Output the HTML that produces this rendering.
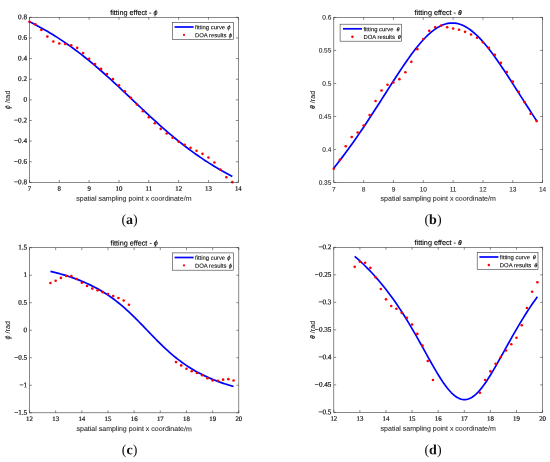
<!DOCTYPE html>
<html><head><meta charset="utf-8"><title>fitting effect</title>
<style>
html,body{margin:0;padding:0;background:#fff}
svg{display:block}
text{font-family:"Liberation Sans",sans-serif;fill:#111}
.ts{font-family:"Liberation Serif",serif;font-size:7.15px;fill:#111;stroke:#111;stroke-width:0.2}
.ts.tx{font-size:6.85px}
.tn{font-size:6.55px;fill:#1a1a1a;stroke:#1a1a1a;stroke-width:0.08}
.ti{font-size:7.25px;fill:#000;stroke:#000;stroke-width:0.1}
.xl{font-size:7px;fill:#2a2a2a;stroke:#2a2a2a;stroke-width:0.08}
.yl{font-size:7.25px;fill:#2a2a2a;stroke:#2a2a2a;stroke-width:0.08}
.le{font-size:5.9px;fill:#000;stroke:#000;stroke-width:0.08}
.sy{font-style:italic}
.th{font-style:italic;font-weight:bold;font-size:94%}
.cp{font-family:"Liberation Serif",serif;font-size:14px;fill:#111}
.bd{font-weight:bold}
.cv{fill:none;stroke:#0000ff;stroke-width:1.7;stroke-linejoin:round}
.dt{fill:#ff0000}
.ax{fill:none;stroke:#3a3a3a;stroke-width:0.6}
.lg{fill:#fff;stroke:#3a3a3a;stroke-width:0.6}
</style></head>
<body><svg width="550" height="462" viewBox="0 0 550 462">
<rect width="550" height="462" fill="#fff"/>
<path class="cv" d="M29.45 21.64 L31.73 22.79 L34.01 23.96 L36.29 25.16 L38.57 26.39 L40.85 27.64 L43.13 28.92 L45.41 30.22 L47.69 31.55 L49.97 32.91 L52.25 34.30 L54.53 35.71 L56.80 37.15 L59.08 38.62 L61.36 40.12 L63.64 41.65 L65.92 43.21 L68.20 44.79 L70.48 46.41 L72.76 48.05 L75.04 49.73 L77.32 51.43 L79.60 53.16 L81.88 54.93 L84.16 56.72 L86.44 58.53 L88.72 60.38 L91.00 62.25 L93.28 64.15 L95.56 66.08 L97.84 68.02 L100.12 70.00 L102.40 71.99 L104.68 74.01 L106.96 76.05 L109.24 78.10 L111.51 80.18 L113.79 82.27 L116.07 84.37 L118.35 86.49 L120.63 88.62 L122.91 90.76 L125.19 92.91 L127.47 95.06 L129.75 97.22 L132.03 99.38 L134.31 101.53 L136.59 103.69 L138.87 105.85 L141.15 108.00 L143.43 110.14 L145.71 112.27 L147.99 114.40 L150.27 116.51 L152.55 118.61 L154.83 120.69 L157.11 122.75 L159.39 124.80 L161.67 126.82 L163.95 128.83 L166.22 130.81 L168.50 132.77 L170.78 134.71 L173.06 136.62 L175.34 138.50 L177.62 140.36 L179.90 142.19 L182.18 143.99 L184.46 145.76 L186.74 147.51 L189.02 149.23 L191.30 150.91 L193.58 152.57 L195.86 154.20 L198.14 155.80 L200.42 157.37 L202.70 158.91 L204.98 160.42 L207.26 161.91 L209.54 163.36 L211.82 164.79 L214.10 166.18 L216.38 167.55 L218.66 168.90 L220.93 170.21 L223.21 171.50 L225.49 172.76 L227.77 174.00 L230.05 175.21 L232.33 176.40"/>
<g class="dt"><circle cx="29.45" cy="21.87" r="1.3"/><circle cx="35.42" cy="24.42" r="1.3"/><circle cx="41.38" cy="29.99" r="1.3"/><circle cx="47.35" cy="36.60" r="1.3"/><circle cx="53.32" cy="41.45" r="1.3"/><circle cx="59.29" cy="43.51" r="1.3"/><circle cx="65.25" cy="44.03" r="1.3"/><circle cx="71.22" cy="45.26" r="1.3"/><circle cx="77.19" cy="47.84" r="1.3"/><circle cx="83.15" cy="53.11" r="1.3"/><circle cx="89.12" cy="58.73" r="1.3"/><circle cx="95.09" cy="64.04" r="1.3"/><circle cx="101.06" cy="68.89" r="1.3"/><circle cx="107.02" cy="73.95" r="1.3"/><circle cx="112.99" cy="79.06" r="1.3"/><circle cx="118.96" cy="85.20" r="1.3"/><circle cx="124.92" cy="91.29" r="1.3"/><circle cx="130.89" cy="97.89" r="1.3"/><circle cx="136.86" cy="104.49" r="1.3"/><circle cx="142.83" cy="111.30" r="1.3"/><circle cx="148.79" cy="117.19" r="1.3"/><circle cx="154.76" cy="123.27" r="1.3"/><circle cx="160.73" cy="128.90" r="1.3"/><circle cx="166.69" cy="133.49" r="1.3"/><circle cx="172.66" cy="137.82" r="1.3"/><circle cx="178.63" cy="141.64" r="1.3"/><circle cx="184.60" cy="144.70" r="1.3"/><circle cx="190.56" cy="147.73" r="1.3"/><circle cx="196.53" cy="150.82" r="1.3"/><circle cx="202.50" cy="153.87" r="1.3"/><circle cx="208.46" cy="157.43" r="1.3"/><circle cx="214.43" cy="162.48" r="1.3"/><circle cx="220.40" cy="169.66" r="1.3"/><circle cx="226.37" cy="177.30" r="1.3"/><circle cx="232.33" cy="182.14" r="1.3"/></g>
<rect class="ax" x="29.45" y="17.3" width="208.85" height="165.10"/>
<path class="ax" d="M29.45 182.4 v-2.4 M29.45 17.3 v2.4 M59.29 182.4 v-2.4 M59.29 17.3 v2.4 M89.12 182.4 v-2.4 M89.12 17.3 v2.4 M118.96 182.4 v-2.4 M118.96 17.3 v2.4 M148.79 182.4 v-2.4 M148.79 17.3 v2.4 M178.63 182.4 v-2.4 M178.63 17.3 v2.4 M208.46 182.4 v-2.4 M208.46 17.3 v2.4 M238.30 182.4 v-2.4 M238.30 17.3 v2.4 M29.45 182.40 h2.4 M238.3 182.40 h-2.4 M29.45 161.76 h2.4 M238.3 161.76 h-2.4 M29.45 141.12 h2.4 M238.3 141.12 h-2.4 M29.45 120.49 h2.4 M238.3 120.49 h-2.4 M29.45 99.85 h2.4 M238.3 99.85 h-2.4 M29.45 79.21 h2.4 M238.3 79.21 h-2.4 M29.45 58.57 h2.4 M238.3 58.57 h-2.4 M29.45 37.94 h2.4 M238.3 37.94 h-2.4 M29.45 17.30 h2.4 M238.3 17.30 h-2.4"/>
<text transform="translate(29.45 190.70) rotate(0.03)" class="ts tx" text-anchor="middle">7</text>
<text transform="translate(59.29 190.70) rotate(0.03)" class="ts tx" text-anchor="middle">8</text>
<text transform="translate(89.12 190.70) rotate(0.03)" class="ts tx" text-anchor="middle">9</text>
<text transform="translate(118.96 190.70) rotate(0.03)" class="ts tx" text-anchor="middle">10</text>
<text transform="translate(148.79 190.70) rotate(0.03)" class="ts tx" text-anchor="middle">11</text>
<text transform="translate(178.63 190.70) rotate(0.03)" class="ts tx" text-anchor="middle">12</text>
<text transform="translate(208.46 190.70) rotate(0.03)" class="ts tx" text-anchor="middle">13</text>
<text transform="translate(238.30 190.70) rotate(0.03)" class="ts tx" text-anchor="middle">14</text>
<text transform="translate(27.05 184.30) rotate(0.03)" class="ts" text-anchor="end">−0.8</text>
<text transform="translate(27.05 163.66) rotate(0.03)" class="ts" text-anchor="end">−0.6</text>
<text transform="translate(27.05 143.03) rotate(0.03)" class="ts" text-anchor="end">−0.4</text>
<text transform="translate(27.05 122.39) rotate(0.03)" class="ts" text-anchor="end">−0.2</text>
<text transform="translate(27.05 101.75) rotate(0.03)" class="ts" text-anchor="end">0</text>
<text transform="translate(27.05 81.11) rotate(0.03)" class="ts" text-anchor="end">0.2</text>
<text transform="translate(27.05 60.47) rotate(0.03)" class="ts" text-anchor="end">0.4</text>
<text transform="translate(27.05 39.84) rotate(0.03)" class="ts" text-anchor="end">0.6</text>
<text transform="translate(27.05 19.20) rotate(0.03)" class="ts" text-anchor="end">0.8</text>
<text transform="translate(133.88 15.00) rotate(0.03)" class="ti" text-anchor="middle">fitting effect - <tspan class="sy">ϕ</tspan></text>
<text transform="translate(133.88 200.70) rotate(0.03)" class="xl" text-anchor="middle">spatial sampling point x coordinate/m</text>
<text transform="translate(10.00 99.85) rotate(-90)" class="yl" text-anchor="middle"><tspan class="sy">ϕ</tspan> /rad</text>
<rect class="lg" x="172.4" y="22.4" width="61.10" height="17.00"/>
<path class="cv" d="M174.60 27.00 h19"/>
<circle class="dt" cx="184.00" cy="34.90" r="1.05"/>
<text transform="translate(195.00 29.35) rotate(0.03)" class="le">fitting curve <tspan dx="0.4"><tspan class="sy">ϕ</tspan></tspan></text>
<text transform="translate(195.00 37.15) rotate(0.03)" class="le">DOA results <tspan dx="0.8"><tspan class="sy">ϕ</tspan></tspan></text>
<path class="cv" d="M333.80 168.15 L336.08 165.27 L338.36 162.35 L340.64 159.39 L342.92 156.38 L345.20 153.33 L347.47 150.23 L349.75 147.09 L352.03 143.91 L354.31 140.68 L356.59 137.42 L358.87 134.12 L361.15 130.77 L363.43 127.40 L365.71 123.99 L367.99 120.54 L370.26 117.07 L372.54 113.57 L374.82 110.05 L377.10 106.51 L379.38 102.95 L381.66 99.38 L383.94 95.80 L386.22 92.22 L388.50 88.65 L390.78 85.08 L393.05 81.53 L395.33 78.00 L397.61 74.50 L399.89 71.04 L402.17 67.63 L404.45 64.27 L406.73 60.97 L409.01 57.74 L411.29 54.60 L413.57 51.54 L415.85 48.59 L418.12 45.75 L420.40 43.04 L422.68 40.45 L424.96 38.01 L427.24 35.72 L429.52 33.59 L431.80 31.64 L434.08 29.86 L436.36 28.28 L438.64 26.89 L440.91 25.70 L443.19 24.72 L445.47 23.96 L447.75 23.41 L450.03 23.09 L452.31 22.99 L454.59 23.11 L456.87 23.45 L459.15 24.01 L461.43 24.79 L463.71 25.79 L465.98 26.99 L468.26 28.39 L470.54 30.00 L472.82 31.79 L475.10 33.75 L477.38 35.89 L479.66 38.20 L481.94 40.65 L484.22 43.25 L486.50 45.97 L488.77 48.82 L491.05 51.78 L493.33 54.84 L495.61 57.99 L497.89 61.23 L500.17 64.53 L502.45 67.90 L504.73 71.32 L507.01 74.78 L509.29 78.28 L511.56 81.81 L513.84 85.36 L516.12 88.93 L518.40 92.51 L520.68 96.09 L522.96 99.66 L525.24 103.23 L527.52 106.79 L529.80 110.33 L532.08 113.85 L534.36 117.35 L536.63 120.82"/>
<g class="dt"><circle cx="333.80" cy="168.76" r="1.3"/><circle cx="339.77" cy="159.91" r="1.3"/><circle cx="345.73" cy="146.18" r="1.3"/><circle cx="351.70" cy="137.06" r="1.3"/><circle cx="357.66" cy="132.44" r="1.3"/><circle cx="363.63" cy="125.57" r="1.3"/><circle cx="369.59" cy="114.94" r="1.3"/><circle cx="375.56" cy="100.94" r="1.3"/><circle cx="381.53" cy="90.57" r="1.3"/><circle cx="387.49" cy="84.69" r="1.3"/><circle cx="393.46" cy="82.45" r="1.3"/><circle cx="399.42" cy="79.15" r="1.3"/><circle cx="405.39" cy="72.28" r="1.3"/><circle cx="411.35" cy="61.84" r="1.3"/><circle cx="417.32" cy="49.17" r="1.3"/><circle cx="423.29" cy="39.00" r="1.3"/><circle cx="429.25" cy="30.87" r="1.3"/><circle cx="435.22" cy="27.31" r="1.3"/><circle cx="441.18" cy="25.52" r="1.3"/><circle cx="447.15" cy="27.31" r="1.3"/><circle cx="453.11" cy="28.56" r="1.3"/><circle cx="459.08" cy="29.82" r="1.3"/><circle cx="465.05" cy="31.86" r="1.3"/><circle cx="471.01" cy="34.44" r="1.3"/><circle cx="476.98" cy="37.74" r="1.3"/><circle cx="482.94" cy="42.30" r="1.3"/><circle cx="488.91" cy="47.91" r="1.3"/><circle cx="494.87" cy="54.71" r="1.3"/><circle cx="500.84" cy="62.84" r="1.3"/><circle cx="506.81" cy="72.02" r="1.3"/><circle cx="512.77" cy="81.66" r="1.3"/><circle cx="518.74" cy="91.83" r="1.3"/><circle cx="524.70" cy="102.26" r="1.3"/><circle cx="530.67" cy="113.69" r="1.3"/><circle cx="536.63" cy="121.08" r="1.3"/></g>
<rect class="ax" x="333.8" y="17.4" width="208.80" height="165.10"/>
<path class="ax" d="M333.80 182.5 v-2.4 M333.80 17.4 v2.4 M363.63 182.5 v-2.4 M363.63 17.4 v2.4 M393.46 182.5 v-2.4 M393.46 17.4 v2.4 M423.29 182.5 v-2.4 M423.29 17.4 v2.4 M453.11 182.5 v-2.4 M453.11 17.4 v2.4 M482.94 182.5 v-2.4 M482.94 17.4 v2.4 M512.77 182.5 v-2.4 M512.77 17.4 v2.4 M542.60 182.5 v-2.4 M542.60 17.4 v2.4 M333.8 182.50 h2.4 M542.6 182.50 h-2.4 M333.8 149.48 h2.4 M542.6 149.48 h-2.4 M333.8 116.46 h2.4 M542.6 116.46 h-2.4 M333.8 83.44 h2.4 M542.6 83.44 h-2.4 M333.8 50.42 h2.4 M542.6 50.42 h-2.4 M333.8 17.40 h2.4 M542.6 17.40 h-2.4"/>
<text transform="translate(333.80 191.40) rotate(0.03)" class="tn tx" text-anchor="middle">7</text>
<text transform="translate(363.63 191.40) rotate(0.03)" class="tn tx" text-anchor="middle">8</text>
<text transform="translate(393.46 191.40) rotate(0.03)" class="tn tx" text-anchor="middle">9</text>
<text transform="translate(423.29 191.40) rotate(0.03)" class="tn tx" text-anchor="middle">10</text>
<text transform="translate(453.11 191.40) rotate(0.03)" class="tn tx" text-anchor="middle">11</text>
<text transform="translate(482.94 191.40) rotate(0.03)" class="tn tx" text-anchor="middle">12</text>
<text transform="translate(512.77 191.40) rotate(0.03)" class="tn tx" text-anchor="middle">13</text>
<text transform="translate(542.60 191.40) rotate(0.03)" class="tn tx" text-anchor="middle">14</text>
<text transform="translate(331.40 184.70) rotate(0.03)" class="tn" text-anchor="end">0.35</text>
<text transform="translate(331.40 151.68) rotate(0.03)" class="tn" text-anchor="end">0.4</text>
<text transform="translate(331.40 118.66) rotate(0.03)" class="tn" text-anchor="end">0.45</text>
<text transform="translate(331.40 85.64) rotate(0.03)" class="tn" text-anchor="end">0.5</text>
<text transform="translate(331.40 52.62) rotate(0.03)" class="tn" text-anchor="end">0.55</text>
<text transform="translate(331.40 19.60) rotate(0.03)" class="tn" text-anchor="end">0.6</text>
<text transform="translate(438.20 15.10) rotate(0.03)" class="ti" text-anchor="middle">fitting effect - <tspan class="th">θ</tspan></text>
<text transform="translate(438.20 200.80) rotate(0.03)" class="xl" text-anchor="middle">spatial sampling point x coordinate/m</text>
<text transform="translate(314.80 99.95) rotate(-90)" class="yl" text-anchor="middle"><tspan class="th">θ</tspan> /rad</text>
<rect class="lg" x="340.1" y="24.2" width="61.40" height="17.00"/>
<path class="cv" d="M343.00 28.80 h19"/>
<circle class="dt" cx="352.40" cy="36.70" r="1.25"/>
<text transform="translate(363.40 31.15) rotate(0.03)" class="le">fitting curve <tspan dx="1.3"><tspan class="th">θ</tspan></tspan></text>
<text transform="translate(363.40 38.95) rotate(0.03)" class="le">DOA results <tspan dx="1.3"><tspan class="th">θ</tspan></tspan></text>
<path class="cv" d="M50.43 271.30 L52.49 271.80 L54.55 272.31 L56.60 272.85 L58.66 273.40 L60.72 273.98 L62.78 274.57 L64.83 275.18 L66.89 275.82 L68.95 276.48 L71.01 277.16 L73.06 277.87 L75.12 278.61 L77.18 279.37 L79.24 280.16 L81.30 280.99 L83.35 281.84 L85.41 282.73 L87.47 283.66 L89.53 284.62 L91.58 285.61 L93.64 286.65 L95.70 287.73 L97.76 288.85 L99.82 290.02 L101.87 291.23 L103.93 292.49 L105.99 293.80 L108.05 295.16 L110.10 296.57 L112.16 298.03 L114.22 299.55 L116.28 301.12 L118.33 302.75 L120.39 304.43 L122.45 306.16 L124.51 307.95 L126.57 309.78 L128.62 311.67 L130.68 313.60 L132.74 315.58 L134.80 317.60 L136.85 319.65 L138.91 321.73 L140.97 323.83 L143.03 325.96 L145.09 328.10 L147.14 330.24 L149.20 332.38 L151.26 334.52 L153.32 336.65 L155.37 338.75 L157.43 340.83 L159.49 342.89 L161.55 344.90 L163.60 346.88 L165.66 348.81 L167.72 350.70 L169.78 352.54 L171.84 354.32 L173.89 356.06 L175.95 357.74 L178.01 359.36 L180.07 360.93 L182.12 362.45 L184.18 363.92 L186.24 365.33 L188.30 366.69 L190.36 368.00 L192.41 369.26 L194.47 370.47 L196.53 371.64 L198.59 372.76 L200.64 373.84 L202.70 374.88 L204.76 375.88 L206.82 376.84 L208.87 377.76 L210.93 378.65 L212.99 379.50 L215.05 380.33 L217.11 381.12 L219.16 381.88 L221.22 382.62 L223.28 383.33 L225.34 384.01 L227.39 384.67 L229.45 385.31 L231.51 385.93 L233.57 386.52"/>
<g class="dt"><circle cx="50.43" cy="283.00" r="1.3"/><circle cx="55.66" cy="280.72" r="1.3"/><circle cx="60.89" cy="277.91" r="1.3"/><circle cx="66.13" cy="275.88" r="1.3"/><circle cx="71.36" cy="276.15" r="1.3"/><circle cx="76.59" cy="278.96" r="1.3"/><circle cx="81.82" cy="282.76" r="1.3"/><circle cx="87.06" cy="286.06" r="1.3"/><circle cx="92.29" cy="288.59" r="1.3"/><circle cx="97.52" cy="290.35" r="1.3"/><circle cx="102.75" cy="292.17" r="1.3"/><circle cx="107.99" cy="293.93" r="1.3"/><circle cx="113.22" cy="295.96" r="1.3"/><circle cx="118.45" cy="298.00" r="1.3"/><circle cx="123.68" cy="300.53" r="1.3"/><circle cx="128.92" cy="304.82" r="1.3"/><circle cx="176.01" cy="362.11" r="1.3"/><circle cx="181.24" cy="365.42" r="1.3"/><circle cx="186.48" cy="368.72" r="1.3"/><circle cx="191.71" cy="371.25" r="1.3"/><circle cx="196.94" cy="373.07" r="1.3"/><circle cx="202.17" cy="375.32" r="1.3"/><circle cx="207.40" cy="378.13" r="1.3"/><circle cx="212.64" cy="380.44" r="1.3"/><circle cx="217.87" cy="380.72" r="1.3"/><circle cx="223.10" cy="379.67" r="1.3"/><circle cx="228.33" cy="379.17" r="1.3"/><circle cx="233.57" cy="380.44" r="1.3"/></g>
<rect class="ax" x="29.5" y="247.7" width="209.30" height="165.10"/>
<path class="ax" d="M29.50 412.8 v-2.4 M29.50 247.7 v2.4 M55.66 412.8 v-2.4 M55.66 247.7 v2.4 M81.83 412.8 v-2.4 M81.83 247.7 v2.4 M107.99 412.8 v-2.4 M107.99 247.7 v2.4 M134.15 412.8 v-2.4 M134.15 247.7 v2.4 M160.31 412.8 v-2.4 M160.31 247.7 v2.4 M186.48 412.8 v-2.4 M186.48 247.7 v2.4 M212.64 412.8 v-2.4 M212.64 247.7 v2.4 M238.80 412.8 v-2.4 M238.80 247.7 v2.4 M29.5 412.80 h2.4 M238.8 412.80 h-2.4 M29.5 385.28 h2.4 M238.8 385.28 h-2.4 M29.5 357.77 h2.4 M238.8 357.77 h-2.4 M29.5 330.25 h2.4 M238.8 330.25 h-2.4 M29.5 302.73 h2.4 M238.8 302.73 h-2.4 M29.5 275.22 h2.4 M238.8 275.22 h-2.4 M29.5 247.70 h2.4 M238.8 247.70 h-2.4"/>
<text transform="translate(29.50 421.10) rotate(0.03)" class="ts tx" text-anchor="middle">12</text>
<text transform="translate(55.66 421.10) rotate(0.03)" class="ts tx" text-anchor="middle">13</text>
<text transform="translate(81.83 421.10) rotate(0.03)" class="ts tx" text-anchor="middle">14</text>
<text transform="translate(107.99 421.10) rotate(0.03)" class="ts tx" text-anchor="middle">15</text>
<text transform="translate(134.15 421.10) rotate(0.03)" class="ts tx" text-anchor="middle">16</text>
<text transform="translate(160.31 421.10) rotate(0.03)" class="ts tx" text-anchor="middle">17</text>
<text transform="translate(186.48 421.10) rotate(0.03)" class="ts tx" text-anchor="middle">18</text>
<text transform="translate(212.64 421.10) rotate(0.03)" class="ts tx" text-anchor="middle">19</text>
<text transform="translate(238.80 421.10) rotate(0.03)" class="ts tx" text-anchor="middle">20</text>
<text transform="translate(27.10 414.70) rotate(0.03)" class="ts" text-anchor="end">−1.5</text>
<text transform="translate(27.10 387.18) rotate(0.03)" class="ts" text-anchor="end">−1</text>
<text transform="translate(27.10 359.67) rotate(0.03)" class="ts" text-anchor="end">−0.5</text>
<text transform="translate(27.10 332.15) rotate(0.03)" class="ts" text-anchor="end">0</text>
<text transform="translate(27.10 304.63) rotate(0.03)" class="ts" text-anchor="end">0.5</text>
<text transform="translate(27.10 277.12) rotate(0.03)" class="ts" text-anchor="end">1</text>
<text transform="translate(27.10 249.60) rotate(0.03)" class="ts" text-anchor="end">1.5</text>
<text transform="translate(134.15 245.40) rotate(0.03)" class="ti" text-anchor="middle">fitting effect - <tspan class="sy">ϕ</tspan></text>
<text transform="translate(134.15 431.10) rotate(0.03)" class="xl" text-anchor="middle">spatial sampling point x coordinate/m</text>
<text transform="translate(10.00 330.25) rotate(-90)" class="yl" text-anchor="middle"><tspan class="sy">ϕ</tspan> /rad</text>
<rect class="lg" x="172.4" y="252.9" width="61.20" height="17.30"/>
<path class="cv" d="M174.60 257.50 h19"/>
<circle class="dt" cx="184.00" cy="265.40" r="1.05"/>
<text transform="translate(195.00 259.85) rotate(0.03)" class="le">fitting curve <tspan dx="0.4"><tspan class="sy">ϕ</tspan></tspan></text>
<text transform="translate(195.00 267.65) rotate(0.03)" class="le">DOA results <tspan dx="0.8"><tspan class="sy">ϕ</tspan></tspan></text>
<path class="cv" d="M354.68 256.30 L356.73 258.09 L358.79 259.93 L360.84 261.82 L362.89 263.75 L364.94 265.74 L367.00 267.78 L369.05 269.88 L371.10 272.03 L373.16 274.24 L375.21 276.51 L377.26 278.84 L379.31 281.23 L381.37 283.69 L383.42 286.22 L385.47 288.81 L387.52 291.46 L389.58 294.19 L391.63 296.99 L393.68 299.86 L395.74 302.80 L397.79 305.81 L399.84 308.89 L401.89 312.04 L403.95 315.27 L406.00 318.56 L408.05 321.92 L410.11 325.34 L412.16 328.82 L414.21 332.36 L416.26 335.95 L418.32 339.58 L420.37 343.24 L422.42 346.93 L424.48 350.64 L426.53 354.35 L428.58 358.05 L430.63 361.72 L432.69 365.35 L434.74 368.92 L436.79 372.40 L438.85 375.78 L440.90 379.04 L442.95 382.14 L445.00 385.06 L447.06 387.79 L449.11 390.29 L451.16 392.53 L453.21 394.50 L455.27 396.18 L457.32 397.55 L459.37 398.58 L461.43 399.27 L463.48 399.61 L465.53 399.60 L467.58 399.23 L469.64 398.51 L471.69 397.46 L473.74 396.07 L475.80 394.37 L477.85 392.38 L479.90 390.11 L481.95 387.60 L484.01 384.86 L486.06 381.92 L488.11 378.80 L490.17 375.54 L492.22 372.15 L494.27 368.66 L496.32 365.09 L498.38 361.45 L500.43 357.78 L502.48 354.08 L504.54 350.37 L506.59 346.66 L508.64 342.97 L510.69 339.31 L512.75 335.68 L514.80 332.10 L516.85 328.57 L518.90 325.09 L520.96 321.67 L523.01 318.32 L525.06 315.03 L527.12 311.81 L529.17 308.66 L531.22 305.59 L533.27 302.58 L535.33 299.65 L537.38 296.78"/>
<g class="dt"><circle cx="354.68" cy="266.84" r="1.3"/><circle cx="359.90" cy="261.77" r="1.3"/><circle cx="365.12" cy="262.82" r="1.3"/><circle cx="370.34" cy="267.88" r="1.3"/><circle cx="375.56" cy="277.29" r="1.3"/><circle cx="380.78" cy="288.96" r="1.3"/><circle cx="386.00" cy="299.36" r="1.3"/><circle cx="391.22" cy="305.97" r="1.3"/><circle cx="396.44" cy="308.77" r="1.3"/><circle cx="401.66" cy="312.84" r="1.3"/><circle cx="406.88" cy="317.69" r="1.3"/><circle cx="412.10" cy="324.51" r="1.3"/><circle cx="417.32" cy="333.92" r="1.3"/><circle cx="422.54" cy="345.64" r="1.3"/><circle cx="427.76" cy="360.94" r="1.3"/><circle cx="432.98" cy="379.99" r="1.3"/><circle cx="479.96" cy="392.70" r="1.3"/><circle cx="485.18" cy="379.99" r="1.3"/><circle cx="490.40" cy="371.35" r="1.3"/><circle cx="495.62" cy="363.70" r="1.3"/><circle cx="500.84" cy="357.09" r="1.3"/><circle cx="506.06" cy="350.49" r="1.3"/><circle cx="511.28" cy="344.32" r="1.3"/><circle cx="516.50" cy="337.72" r="1.3"/><circle cx="521.72" cy="325.28" r="1.3"/><circle cx="526.94" cy="307.95" r="1.3"/><circle cx="532.16" cy="291.71" r="1.3"/><circle cx="537.38" cy="282.30" r="1.3"/></g>
<rect class="ax" x="333.8" y="247.3" width="208.80" height="165.10"/>
<path class="ax" d="M333.80 412.4 v-2.4 M333.80 247.3 v2.4 M359.90 412.4 v-2.4 M359.90 247.3 v2.4 M386.00 412.4 v-2.4 M386.00 247.3 v2.4 M412.10 412.4 v-2.4 M412.10 247.3 v2.4 M438.20 412.4 v-2.4 M438.20 247.3 v2.4 M464.30 412.4 v-2.4 M464.30 247.3 v2.4 M490.40 412.4 v-2.4 M490.40 247.3 v2.4 M516.50 412.4 v-2.4 M516.50 247.3 v2.4 M542.60 412.4 v-2.4 M542.60 247.3 v2.4 M333.8 412.40 h2.4 M542.6 412.40 h-2.4 M333.8 384.88 h2.4 M542.6 384.88 h-2.4 M333.8 357.37 h2.4 M542.6 357.37 h-2.4 M333.8 329.85 h2.4 M542.6 329.85 h-2.4 M333.8 302.33 h2.4 M542.6 302.33 h-2.4 M333.8 274.82 h2.4 M542.6 274.82 h-2.4 M333.8 247.30 h2.4 M542.6 247.30 h-2.4"/>
<text transform="translate(333.80 420.70) rotate(0.03)" class="ts tx" text-anchor="middle">12</text>
<text transform="translate(359.90 420.70) rotate(0.03)" class="ts tx" text-anchor="middle">13</text>
<text transform="translate(386.00 420.70) rotate(0.03)" class="ts tx" text-anchor="middle">14</text>
<text transform="translate(412.10 420.70) rotate(0.03)" class="ts tx" text-anchor="middle">15</text>
<text transform="translate(438.20 420.70) rotate(0.03)" class="ts tx" text-anchor="middle">16</text>
<text transform="translate(464.30 420.70) rotate(0.03)" class="ts tx" text-anchor="middle">17</text>
<text transform="translate(490.40 420.70) rotate(0.03)" class="ts tx" text-anchor="middle">18</text>
<text transform="translate(516.50 420.70) rotate(0.03)" class="ts tx" text-anchor="middle">19</text>
<text transform="translate(542.60 420.70) rotate(0.03)" class="ts tx" text-anchor="middle">20</text>
<text transform="translate(331.40 414.30) rotate(0.03)" class="ts" text-anchor="end">−0.5</text>
<text transform="translate(331.40 386.78) rotate(0.03)" class="ts" text-anchor="end">−0.45</text>
<text transform="translate(331.40 359.27) rotate(0.03)" class="ts" text-anchor="end">−0.4</text>
<text transform="translate(331.40 331.75) rotate(0.03)" class="ts" text-anchor="end">−0.35</text>
<text transform="translate(331.40 304.23) rotate(0.03)" class="ts" text-anchor="end">−0.3</text>
<text transform="translate(331.40 276.72) rotate(0.03)" class="ts" text-anchor="end">−0.25</text>
<text transform="translate(331.40 249.20) rotate(0.03)" class="ts" text-anchor="end">−0.2</text>
<text transform="translate(438.20 245.00) rotate(0.03)" class="ti" text-anchor="middle">fitting effect - <tspan class="th">θ</tspan></text>
<text transform="translate(438.20 430.70) rotate(0.03)" class="xl" text-anchor="middle">spatial sampling point x coordinate/m</text>
<text transform="translate(315.20 329.85) rotate(-90)" class="yl" text-anchor="middle"><tspan class="th">θ</tspan> /rad</text>
<rect class="lg" x="477.2" y="252.4" width="60.80" height="17.30"/>
<path class="cv" d="M479.40 257.00 h19"/>
<circle class="dt" cx="488.80" cy="264.90" r="1.25"/>
<text transform="translate(499.80 259.35) rotate(0.03)" class="le">fitting curve <tspan dx="1.3"><tspan class="th">θ</tspan></tspan></text>
<text transform="translate(499.80 267.15) rotate(0.03)" class="le">DOA results <tspan dx="1.3"><tspan class="th">θ</tspan></tspan></text>
<text transform="translate(129.60 223.90) rotate(0.03)" class="cp" text-anchor="middle">(<tspan class="bd">a</tspan>)</text>
<text transform="translate(433.00 223.90) rotate(0.03)" class="cp" text-anchor="middle">(<tspan class="bd">b</tspan>)</text>
<text transform="translate(129.60 454.20) rotate(0.03)" class="cp" text-anchor="middle">(<tspan class="bd">c</tspan>)</text>
<text transform="translate(433.00 454.20) rotate(0.03)" class="cp" text-anchor="middle">(<tspan class="bd">d</tspan>)</text>
</svg></body></html>
